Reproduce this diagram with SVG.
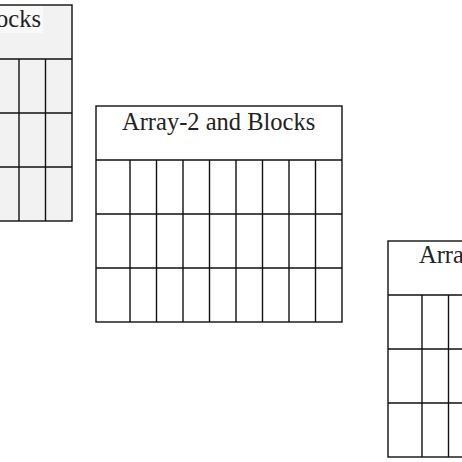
<svg xmlns="http://www.w3.org/2000/svg" width="462" height="462" viewBox="0 0 462 462">
<style>
.frame{stroke:#111;stroke-width:1.4;}
.grid{stroke:#111;stroke-width:1.4;fill:none;}
.title{font-family:"Liberation Serif","Times New Roman",serif;font-size:24.5px;fill:#222;}
</style>
<defs>
<g id="panelGrid">
<path class="grid" d="M0 54H246M0 108H246M0 162H246M34 54V216M60.5 54V216M87 54V216M113.5 54V216M140 54V216M166.5 54V216M193 54V216M219.5 54V216"/>
</g>
</defs>
<rect width="462" height="462" fill="#fff"/>
<g id="array1" transform="translate(-174,5)">
<rect class="frame" x="0" y="0" width="246" height="216" fill="#f2f2f2"/>
<rect x="20" y="1" width="197" height="27" fill="#f9f9f9"/>
<use href="#panelGrid"/>
<text class="title" x="215" y="22" text-anchor="end">Array-1 and Blocks</text>
</g>
<g id="array2" transform="translate(96,106)">
<rect class="frame" x="0" y="0" width="246" height="216" fill="#fff"/>
<use href="#panelGrid"/>
<text class="title" x="26" y="23.5">Array-2 and Blocks</text>
</g>
<g id="array3" transform="translate(388,241)">
<rect class="frame" x="0" y="0" width="246" height="216" fill="#fff"/>
<use href="#panelGrid"/>
<text class="title" x="31" y="22">Array-3 and Blocks</text>
</g>
<g id="connectors"></g>
</svg>
